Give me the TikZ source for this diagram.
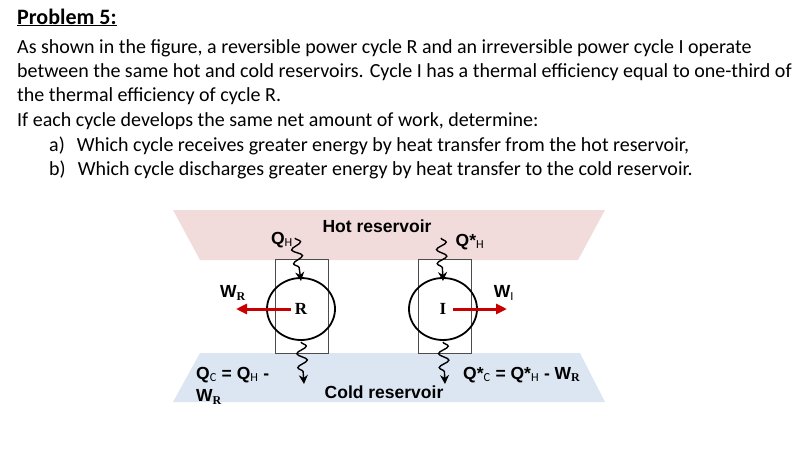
\documentclass[tikz,border=0pt]{standalone}
\usepackage{fontspec}
\setmainfont{Carlito}
\newfontfamily\arialf{Liberation Sans}
\newfontfamily\timesf{Liberation Serif}
\usetikzlibrary{decorations.pathmorphing,arrows.meta,shapes.geometric}
\definecolor{hotc}{RGB}{242,220,219}
\definecolor{coldc}{RGB}{220,230,242}
\definecolor{wred}{RGB}{200,0,0}
\newcommand{\sR}{$_{\hbox{\timesf\bfseries\fontsize{12}{14}\selectfont R}}$}
\begin{document}
\begin{tikzpicture}[x=1pt,y=-1pt,
  txt/.style={anchor=base west,inner sep=0pt,font=\fontsize{20}{24}\selectfont},
  lab/.style={inner sep=0pt,font=\arialf\bfseries\fontsize{17.5}{20}\selectfont},
  heat/.style={-{Stealth[length=9pt,width=9pt]},line width=1.4pt,decorate,decoration={snake,amplitude=5pt,segment length=14pt,pre length=0pt,post length=9pt}},
  work/.style={-{Triangle[length=11pt,width=10pt]},wred,line width=3pt},
  sys/.style={draw=black!70,line width=0.5pt},
  cyc/.style={draw,line width=1.8pt,ellipse,minimum width=68pt,minimum height=62pt,inner sep=0pt,font=\timesf\bfseries\fontsize{17}{20}\selectfont}]
\useasboundingbox (0,0) rectangle (808,453);
\node[txt,font=\bfseries\fontsize{22}{24}\selectfont] (title) at (17,24) {\underline{Problem 5:}};
\node[txt] (l1) at (17,53) {As shown in the figure, a reversible power cycle R and an irreversible power cycle I operate};
\node[txt] (l2) at (17,77) {between the same hot and cold reservoirs. Cycle I has a thermal efficiency equal to one-third of};
\node[txt] (l3) at (17,101) {the thermal efficiency of cycle R.};
\node[txt] (l4) at (17,126) {If each cycle develops the same net amount of work, determine:};
\node[txt] (l5) at (49,151) {a)\hspace{12pt}Which cycle receives greater energy by heat transfer from the hot reservoir,};
\node[txt] (l6) at (49,175) {b)\hspace{12pt}Which cycle discharges greater energy by heat transfer to the cold reservoir.};
\fill[hotc] (173,210) -- (605,210) -- (578,260) -- (200,260) -- cycle;
\fill[coldc] (200,353) -- (580,353) -- (605,402) -- (173,402) -- cycle;
\draw[sys] (275,259) rectangle (328,353);
\draw[sys] (418,259) rectangle (471,353);
\node[cyc] (R) at (301,309) {R};
\node[cyc] (I) at (443,309) {I};
\coordinate (qh1) at (295,238);
\coordinate (qh2) at (301,281);
\coordinate (qc1) at (301,342);
\coordinate (qc2) at (304,384);
\coordinate (qi1) at (441,238);
\coordinate (qi2) at (443,281);
\coordinate (qo1) at (443,342);
\coordinate (qo2) at (445,384);
\draw[heat] (qh1) -- (qh2);
\draw[heat] (qc1) -- (qc2);
\draw[heat] (qi1) -- (qi2);
\draw[heat] (qo1) -- (qo2);
\coordinate (wr) at (236,309);
\coordinate (wi) at (507,309);
\coordinate (rs) at (291,309);
\coordinate (is) at (453,309);
\draw[work] (rs) -- (wr);
\draw[work] (is) -- (wi);
\node[lab] (hot) at (377,226) {Hot reservoir};
\node[lab] (cold) at (384,392) {Cold reservoir};
\node[lab] (QH) at (282,240) {Q$_\mathrm{H}$};
\node[lab] (QsH) at (470,242) {Q*$_\mathrm{H}$};
\node[lab] (WR) at (233,293) {W\sR};
\node[lab] (WI) at (504,293) {W$_\mathrm{I}$};
\node[lab,anchor=west] (QC) at (196,375) {Q$_\mathrm{C}$ = Q$_\mathrm{H}$ -};
\node[lab,anchor=west] (QC2) at (196,397) {W\sR};
\node[lab,anchor=west] (QsC) at (463,375) {Q*$_\mathrm{C}$ = Q*$_\mathrm{H}$ - W\sR};
\end{tikzpicture}
\end{document}
